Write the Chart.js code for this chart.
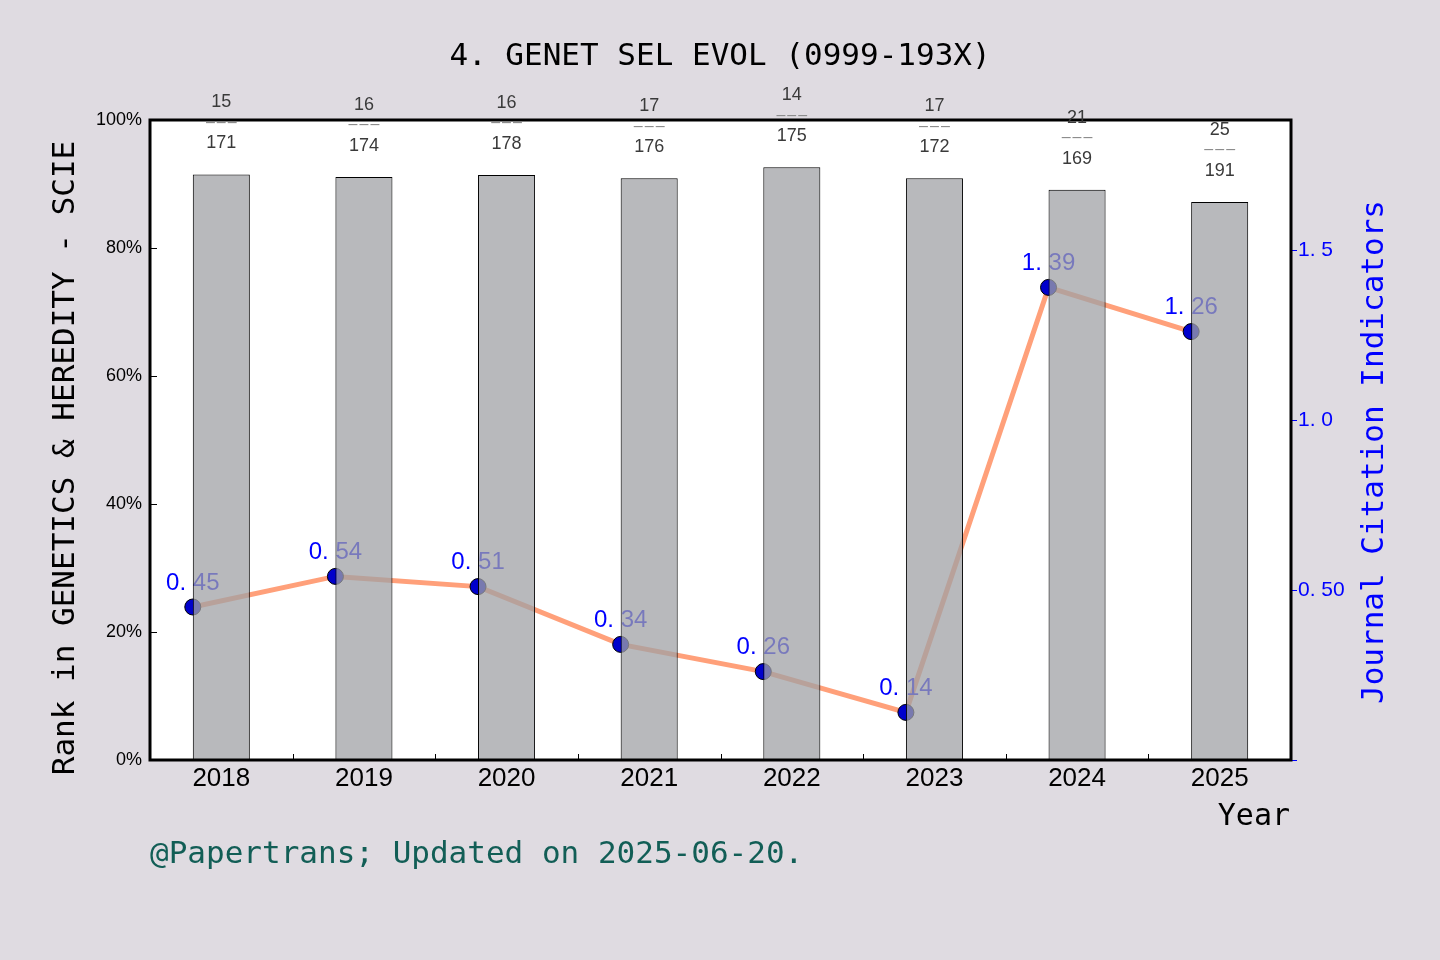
<!DOCTYPE html>
<html>
<head>
<meta charset="utf-8">
<script src="https://cdn.jsdelivr.net/npm/chart.js@4.4.1/dist/chart.umd.min.js"></script>
<style>
  html, body { margin: 0; padding: 0; background: #dfdbe1; }
  canvas { display: block; }
</style>
</head>
<body>
<canvas id="chart" width="1440" height="960"></canvas>
<script>
const years = ['2018', '2019', '2020', '2021', '2022', '2023', '2024', '2025'];
const rankPct = [91.5, 91.1, 91.4, 90.9, 92.6, 90.9, 89.1, 87.2];
const ranks = [15, 16, 16, 17, 14, 17, 21, 25];
const totals = [171, 174, 178, 176, 175, 172, 169, 191];
const jci = [0.45, 0.54, 0.51, 0.34, 0.26, 0.14, 1.39, 1.26];
const leftTicks = [0, 20, 40, 60, 80, 100];
const rightTicks = [0, 0.5, 1.0, 1.5];
const rightTickLabels = ['', '0. 50', '1. 0', '1. 5'];

const MONO = '"DejaVu Sans Mono", "Liberation Mono", monospace';
const SANS = '"Liberation Sans", Arial, sans-serif';

// the line points sit on the left edge of each bar
const LINE_SHIFT = -0.2;

const decor = {
  id: 'decor',
  beforeDraw(chart) {
    const ctx = chart.ctx;
    const a = chart.chartArea;
    ctx.save();
    ctx.fillStyle = '#dfdbe1';
    ctx.fillRect(0, 0, chart.width, chart.height);
    ctx.fillStyle = '#ffffff';
    ctx.fillRect(a.left, a.top, a.right - a.left, a.bottom - a.top);
    ctx.restore();
  },
  afterDatasetDraw(chart, args) {
    if (args.index !== 1) return;
    const ctx = chart.ctx;
    ctx.save();
    ctx.fillStyle = '#0000ff';
    ctx.font = '24px ' + SANS;
    ctx.textAlign = 'center';
    ctx.textBaseline = 'middle';
    args.meta.data.forEach((pt, i) => {
      ctx.fillText(jci[i].toFixed(2).replace('.', '. '), pt.x, pt.y - 24);
    });
    ctx.restore();
  },
  afterDraw(chart) {
    const ctx = chart.ctx;
    const a = chart.chartArea;
    const x = chart.scales.x;
    const y = chart.scales.y;
    ctx.save();

    // frame
    ctx.strokeStyle = '#000';
    ctx.lineWidth = 3;
    ctx.strokeRect(a.left, a.top, a.right - a.left, a.bottom - a.top);

    // inward ticks
    ctx.lineWidth = 1;
    ctx.beginPath();
    for (let i = 0; i < years.length - 1; i++) {
      const px = Math.round(x.getPixelForValue(i + 0.5)) + 0.5;
      ctx.moveTo(px, a.bottom);
      ctx.lineTo(px, a.bottom - 6);
    }
    leftTicks.forEach(v => {
      const py = Math.round(y.getPixelForValue(v)) + 0.5;
      ctx.moveTo(a.left, py);
      ctx.lineTo(a.left + 7, py);
    });
    ctx.stroke();

    // rank labels above bars
    const bars = chart.getDatasetMeta(0).data;
    ctx.textAlign = 'center';
    ctx.textBaseline = 'middle';
    bars.forEach((bar, i) => {
      ctx.font = '18px ' + SANS;
      ctx.fillStyle = '#3a3a3a';
      ctx.fillText(String(ranks[i]), bar.x, bar.y - 72);
      ctx.fillText(String(totals[i]), bar.x, bar.y - 31);
      ctx.font = '16px ' + SANS;
      ctx.fillStyle = '#8a8a8a';
      ctx.letterSpacing = '2px';
      ctx.fillText('\u2013\u2013\u2013', bar.x + 1, bar.y - 52);
      ctx.letterSpacing = '0px';
    });

    // title
    ctx.fillStyle = '#000';
    ctx.font = '31px ' + MONO;
    ctx.fillText('4. GENET SEL EVOL (0999-193X)', 720, 57);

    // Year
    ctx.textAlign = 'right';
    ctx.font = '30px ' + MONO;
    ctx.fillText('Year', 1290, 817);

    // footer
    ctx.textAlign = 'left';
    ctx.fillStyle = '#125e56';
    ctx.font = '31px ' + MONO;
    ctx.fillText('@Papertrans; Updated on 2025-06-20.', 150, 855);

    // left axis title
    ctx.save();
    ctx.translate(66, 458);
    ctx.rotate(-Math.PI / 2);
    ctx.textAlign = 'center';
    ctx.fillStyle = '#000';
    ctx.fillText('Rank in GENETICS & HEREDITY - SCIE', 0, 0);
    ctx.restore();

    // right axis title
    ctx.save();
    ctx.translate(1375, 452);
    ctx.rotate(-Math.PI / 2);
    ctx.textAlign = 'center';
    ctx.fillStyle = '#0000ff';
    ctx.fillText('Journal Citation Indicators', 0, 0);
    ctx.restore();

    ctx.restore();
  }
};

new Chart(document.getElementById('chart'), {
  type: 'bar',
  data: {
    datasets: [{
      label: 'Rank',
      data: rankPct.map((v, i) => ({ x: i, y: v })),
      yAxisID: 'y',
      order: 0,
      grouped: false,
      backgroundColor: 'rgba(160, 162, 165, 0.75)',
      borderColor: '#000',
      borderWidth: 1,
      categoryPercentage: 1,
      barPercentage: 0.4
    }, {
      type: 'line',
      label: 'JCI',
      data: jci.map((v, i) => ({ x: i + LINE_SHIFT, y: v })),
      yAxisID: 'y2',
      order: 1,
      borderColor: '#ffa07a',
      borderWidth: 5,
      pointRadius: 8,
      pointBackgroundColor: '#0000cc',
      pointBorderColor: '#000',
      pointBorderWidth: 1,
      tension: 0
    }]
  },
  options: {
    responsive: false,
    animation: false,
    layout: { padding: { top: 120, left: 0, right: 0, bottom: 0 } },
    plugins: { legend: { display: false }, tooltip: { enabled: false } },
    scales: {
      x: {
        type: 'linear',
        position: 'bottom',
        min: -0.5,
        max: years.length - 0.5,
        offset: false,
        grid: { display: false, drawTicks: false },
        border: { display: false },
        afterBuildTicks: s => { s.ticks = years.map((_, i) => ({ value: i })); },
        ticks: {
          color: '#000',
          font: { family: SANS, size: 26 },
          padding: 3,
          maxRotation: 0,
          autoSkip: false,
          callback: v => years[v]
        },
        afterFit: s => { s.height = 200; }
      },
      y: {
        position: 'left',
        min: 0,
        max: 100,
        grid: { display: false, drawTicks: false },
        border: { display: false },
        afterBuildTicks: s => { s.ticks = leftTicks.map(v => ({ value: v })); },
        ticks: { color: '#000', font: { family: SANS, size: 18 }, padding: 8, callback: v => v + '%' },
        afterFit: s => { s.width = 150; }
      },
      y2: {
        position: 'right',
        min: 0,
        max: 640 / 340,
        grid: { drawOnChartArea: false, color: '#0000ff', tickLength: 6 },
        border: { display: false },
        afterBuildTicks: s => { s.ticks = rightTicks.map(v => ({ value: v })); },
        ticks: {
          color: '#0000ff',
          font: { family: SANS, size: 21 },
          padding: 1,
          callback: (v, i) => rightTickLabels[i]
        },
        afterFit: s => { s.width = 149; }
      }
    }
  },
  plugins: [decor]
});
</script>
</body>
</html>
